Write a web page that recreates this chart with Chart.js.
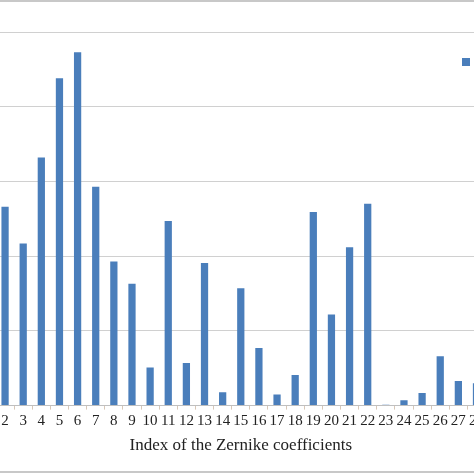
<!DOCTYPE html>
<html><head><meta charset="utf-8">
<script src="https://cdn.jsdelivr.net/npm/chart.js@4"></script>
<style>
html,body{margin:0;padding:0;background:#fff;overflow:hidden;width:474px;height:474px;position:relative}
#w{position:absolute;left:-4px;top:0;width:490px;height:474px}
.f{position:absolute;left:0;width:474px;height:2px;background:#c8c8c8}
</style></head><body>
<div id="w"><canvas id="c"></canvas></div>
<div class="f" style="top:0"></div>
<div class="f" style="top:471px"></div>
<script>
const categories = ["2","3","4","5","6","7","8","9","10","11","12","13","14","15","16","17","18","19","20","21","22","23","24","25","26","27","28"];
const values = [2.66,2.17,3.32,4.38,4.73,2.93,1.93,1.63,0.51,2.47,0.57,1.91,0.18,1.57,0.77,0.15,0.41,2.59,1.22,2.12,2.70,0.01,0.07,0.17,0.66,0.33,0.3];
const xTitle = "Index of the Zernike coefficients";
const legendSq = {id:'lsq',afterDraw(c){const x=c.ctx;x.save();x.fillStyle='#4a7ebb';x.fillRect(466,58,8,8);x.restore();}};
new Chart(document.getElementById('c'),{
 type:'bar',
 data:{labels:categories,datasets:[{data:values,backgroundColor:'#4a7ebb',barPercentage:0.4,categoryPercentage:1}]},
 options:{responsive:true,maintainAspectRatio:false,animation:false,
  layout:{padding:{top:32,left:0,right:0,bottom:14}},
  plugins:{legend:{display:false},tooltip:{enabled:false}},
  scales:{
   x:{grid:{display:true,drawOnChartArea:false,drawTicks:true,tickLength:4,color:'#d8c8b8'},border:{color:'#bfbfbf'},
      ticks:{color:'#222',font:{family:'Liberation Serif',size:15},maxRotation:0,autoSkip:false,padding:2},
      title:{display:true,text:xTitle,color:'#222',font:{family:'Liberation Serif',size:17},padding:{top:4}}},
   y:{min:0,max:5,ticks:{display:false,stepSize:1},grid:{color:'#d0d0d0',drawTicks:false},border:{display:false}}
  }},
 plugins:[legendSq]
});
</script></body></html>
